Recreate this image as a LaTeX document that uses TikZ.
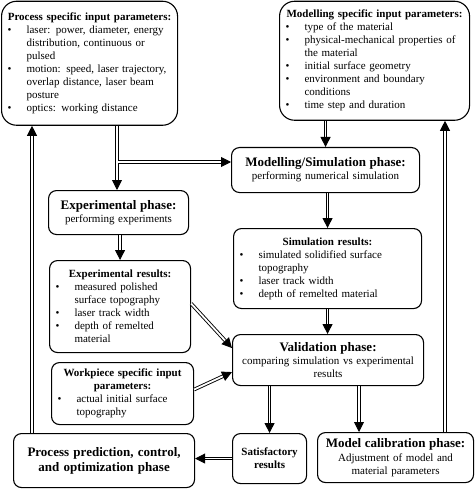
\documentclass[tikz,border=0pt]{standalone}
\usepackage{fontspec}
\setmainfont{Liberation Serif}
\usetikzlibrary{arrows.meta}
\setlength{\parindent}{0pt}

\newcommand{\bul}{\makebox[25pt][l]{\hspace{6pt}\textbullet}}
\newcommand{\ind}{\hspace*{25pt}}
\newcommand{\ptitle}[1]{{\fontsize{13}{15}\selectfont\bfseries #1}}

\begin{document}
\begin{tikzpicture}[x=1pt,y=-1pt,
    box/.style 2 args={draw, line width=1.1pt, rounded corners=8pt, anchor=north west,
        inner xsep=0pt, inner ysep=0pt, minimum width=#1, text width=#1,
        minimum height=#2, align=left, font=\fontsize{11}{13}\selectfont},
    phase/.style 2 args={box={#1}{#2}, align=center},
    dbl/.style={double, double distance=1.8pt, line width=0.9pt,
        -{Triangle[length=10pt,width=10pt]}}]
    \useasboundingbox (0,0) rectangle (474,489);

    % input parameter boxes
    \node[box={176pt}{124pt}, rounded corners=15pt] (ppar) at (1,0.7) {%
        {\centering\textbf{Process specific input parameters:}\par}
        \bul laser: power, diameter, energy\\
        \ind distribution, continuous or\\
        \ind pulsed\\
        \bul motion: speed, laser trajectory,\\
        \ind overlap distance, laser beam\\
        \ind posture\\
        \bul optics: working distance};
    \node[box={190pt}{119pt}, rounded corners=15pt] (mspar) at (279,0.7) {%
        {\centering\textbf{Modelling specific input parameters:}\par}
        \bul type of the material\\
        \bul physical-mechanical properties of\\
        \ind the material\\
        \bul initial surface geometry\\
        \bul environment and boundary\\
        \ind conditions\\
        \bul time step and duration};

    % phases and results
    \node[phase={188pt}{45pt}] (modsim) at (231,147)
        {\ptitle{Modelling/Simulation phase:}\\ performing numerical simulation};
    \node[phase={140pt}{44pt}] (expph) at (48,190)
        {\ptitle{Experimental phase:}\\ performing experiments};
    \node[box={141pt}{92pt}] (expres) at (49,260) {%
        {\centering\textbf{Experimental results:}\par}
        \bul measured polished\\
        \ind surface topography\\
        \bul laser track width\\
        \bul depth of remelted\\
        \ind material};
    \node[box={188pt}{80pt}] (simres) at (233,228) {%
        {\centering\textbf{Simulation results:}\par}
        \bul simulated solidified surface\\
        \ind topography\\
        \bul laser track width\\
        \bul depth of remelted material};
    \node[phase={191pt}{51pt}] (valid) at (232,334)
        {\ptitle{Validation phase:}\\ comparing simulation vs experimental\\ results};
    \node[box={142pt}{62pt}] (wpar) at (51,362) {%
        {\centering\textbf{Workpiece specific input\\ parameters:}\par}
        \bul actual initial surface\\
        \ind topography};
    \node[phase={181pt}{54pt}, font=\fontsize{13}{15}\selectfont\bfseries] (ppc) at (13,433)
        {Process prediction, control,\\ and optimization phase};
    \node[phase={74pt}{50pt}, font=\fontsize{11}{13}\selectfont\bfseries] (satis) at (232,433)
        {Satisfactory\\ results};
    \node[phase={156pt}{50pt}] (mcal) at (317,432)
        {\ptitle{Model calibration phase:}\\[1pt] Adjustment of model and\\ material parameters};

    % connectors
    \coordinate (split) at (117,162);
    \coordinate (fbl) at (32,0);
    \coordinate (cal) at (359,0);
    \coordinate (fbr) at (445,0);
    \draw[dbl] (ppar.south -| split) -- (expph.north -| split);
    \draw[dbl] ([xshift=1.3pt]split) -- (split -| modsim.west);
    \draw[dbl] (ppc.north -| fbl) -- (ppar.south -| fbl);
    \draw[dbl] (mspar.south -| modsim.north) -- (modsim.north);
    \draw[dbl] (modsim.south -| simres.north) -- (simres.north);
    \draw[dbl] (simres.south) -- (simres.south |- valid.north);
    \draw[dbl] (expph.south -| expres.north) -- (expres.north);
    \draw[dbl] ([yshift=3pt]expres.east) -- ([yshift=12pt]valid.west);
    \draw[dbl] ([yshift=4pt]wpar.east) -- ([yshift=-12pt]valid.west);
    \draw[dbl] (valid.south -| satis.north) -- (satis.north);
    \draw[dbl] (valid.south -| cal) -- (mcal.north -| cal);
    \draw[dbl] (mcal.north -| fbr) -- (mspar.south -| fbr);
    \draw[dbl] (satis.west) -- (satis.west -| ppc.east);
\end{tikzpicture}
\end{document}
